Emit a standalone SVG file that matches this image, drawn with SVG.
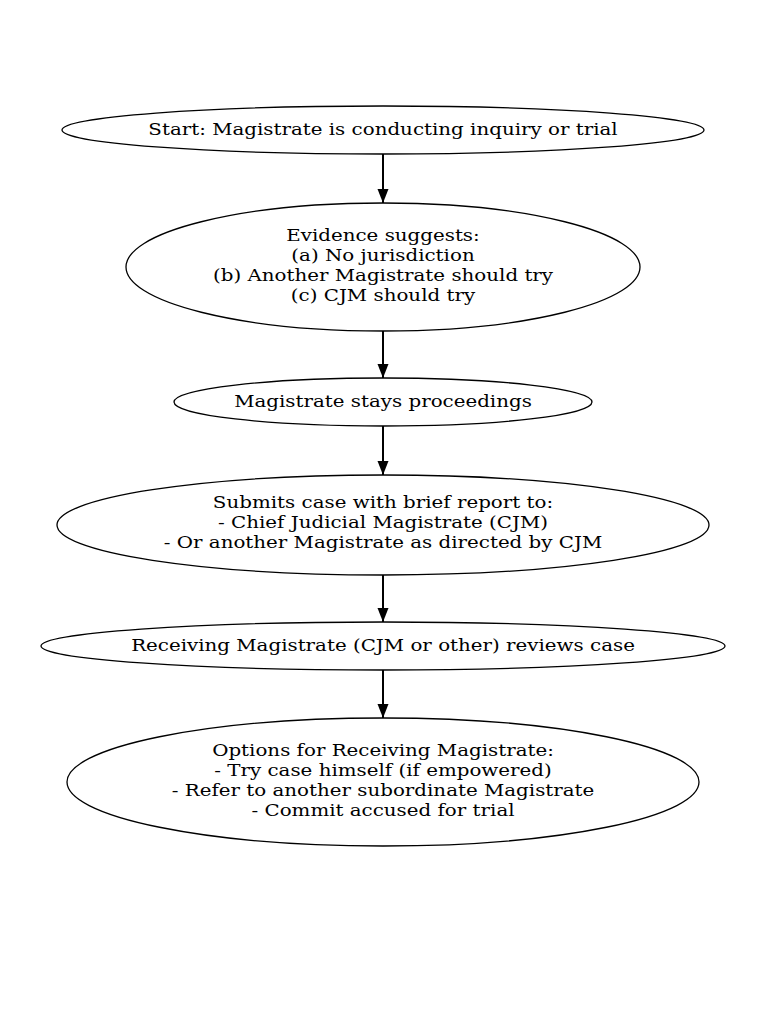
<svg xmlns="http://www.w3.org/2000/svg" width="768" height="1024" viewBox="0 0 768 1024">
<style>
.n ellipse{fill:#fff;stroke:#000;stroke-width:1.3}
.n text{font-family:"DejaVu Serif",serif;font-size:16px;text-anchor:middle;fill:#000}
.e line{stroke:#000;stroke-width:2}
</style>
<defs>
<marker id="ah" markerWidth="14" markerHeight="12" refX="14" refY="6" orient="auto" markerUnits="userSpaceOnUse">
<path d="M0,0.5 L14,6 L0,11.5 Z" fill="#000"/>
</marker>
</defs>
<rect width="768" height="1024" fill="#fff"/>
<g class="e" id="connectors">
<line x1="383" y1="154" x2="383" y2="203" marker-end="url(#ah)"/>
<line x1="383" y1="331" x2="383" y2="378" marker-end="url(#ah)"/>
<line x1="383" y1="426" x2="383" y2="475" marker-end="url(#ah)"/>
<line x1="383" y1="575" x2="383" y2="622" marker-end="url(#ah)"/>
<line x1="383" y1="670" x2="383" y2="718" marker-end="url(#ah)"/>
</g>
<g class="n" id="start">
<ellipse cx="383" cy="130" rx="321" ry="24"/>
<text transform="translate(383,135) scale(1.24,1)">Start: Magistrate is conducting inquiry or trial</text>
</g>
<g class="n" id="evidence">
<ellipse cx="383" cy="267" rx="257" ry="64"/>
<text transform="translate(383,241) scale(1.24,1)">Evidence suggests:</text>
<text transform="translate(383,261) scale(1.24,1)">(a) No jurisdiction</text>
<text transform="translate(383,281) scale(1.24,1)">(b) Another Magistrate should try</text>
<text transform="translate(383,301) scale(1.24,1)">(c) CJM should try</text>
</g>
<g class="n" id="stays">
<ellipse cx="383" cy="402" rx="209" ry="24"/>
<text transform="translate(383,407) scale(1.24,1)">Magistrate stays proceedings</text>
</g>
<g class="n" id="submits">
<ellipse cx="383" cy="525" rx="326" ry="50"/>
<text transform="translate(383,508) scale(1.24,1)">Submits case with brief report to:</text>
<text transform="translate(383,528) scale(1.24,1)">- Chief Judicial Magistrate (CJM)</text>
<text transform="translate(383,548) scale(1.24,1)">- Or another Magistrate as directed by CJM</text>
</g>
<g class="n" id="reviews">
<ellipse cx="383" cy="646" rx="342" ry="24"/>
<text transform="translate(383,651) scale(1.24,1)">Receiving Magistrate (CJM or other) reviews case</text>
</g>
<g class="n" id="options">
<ellipse cx="383" cy="782" rx="316" ry="64"/>
<text transform="translate(383,756) scale(1.24,1)">Options for Receiving Magistrate:</text>
<text transform="translate(383,776) scale(1.24,1)">- Try case himself (if empowered)</text>
<text transform="translate(383,796) scale(1.24,1)">- Refer to another subordinate Magistrate</text>
<text transform="translate(383,816) scale(1.24,1)">- Commit accused for trial</text>
</g>
</svg>
